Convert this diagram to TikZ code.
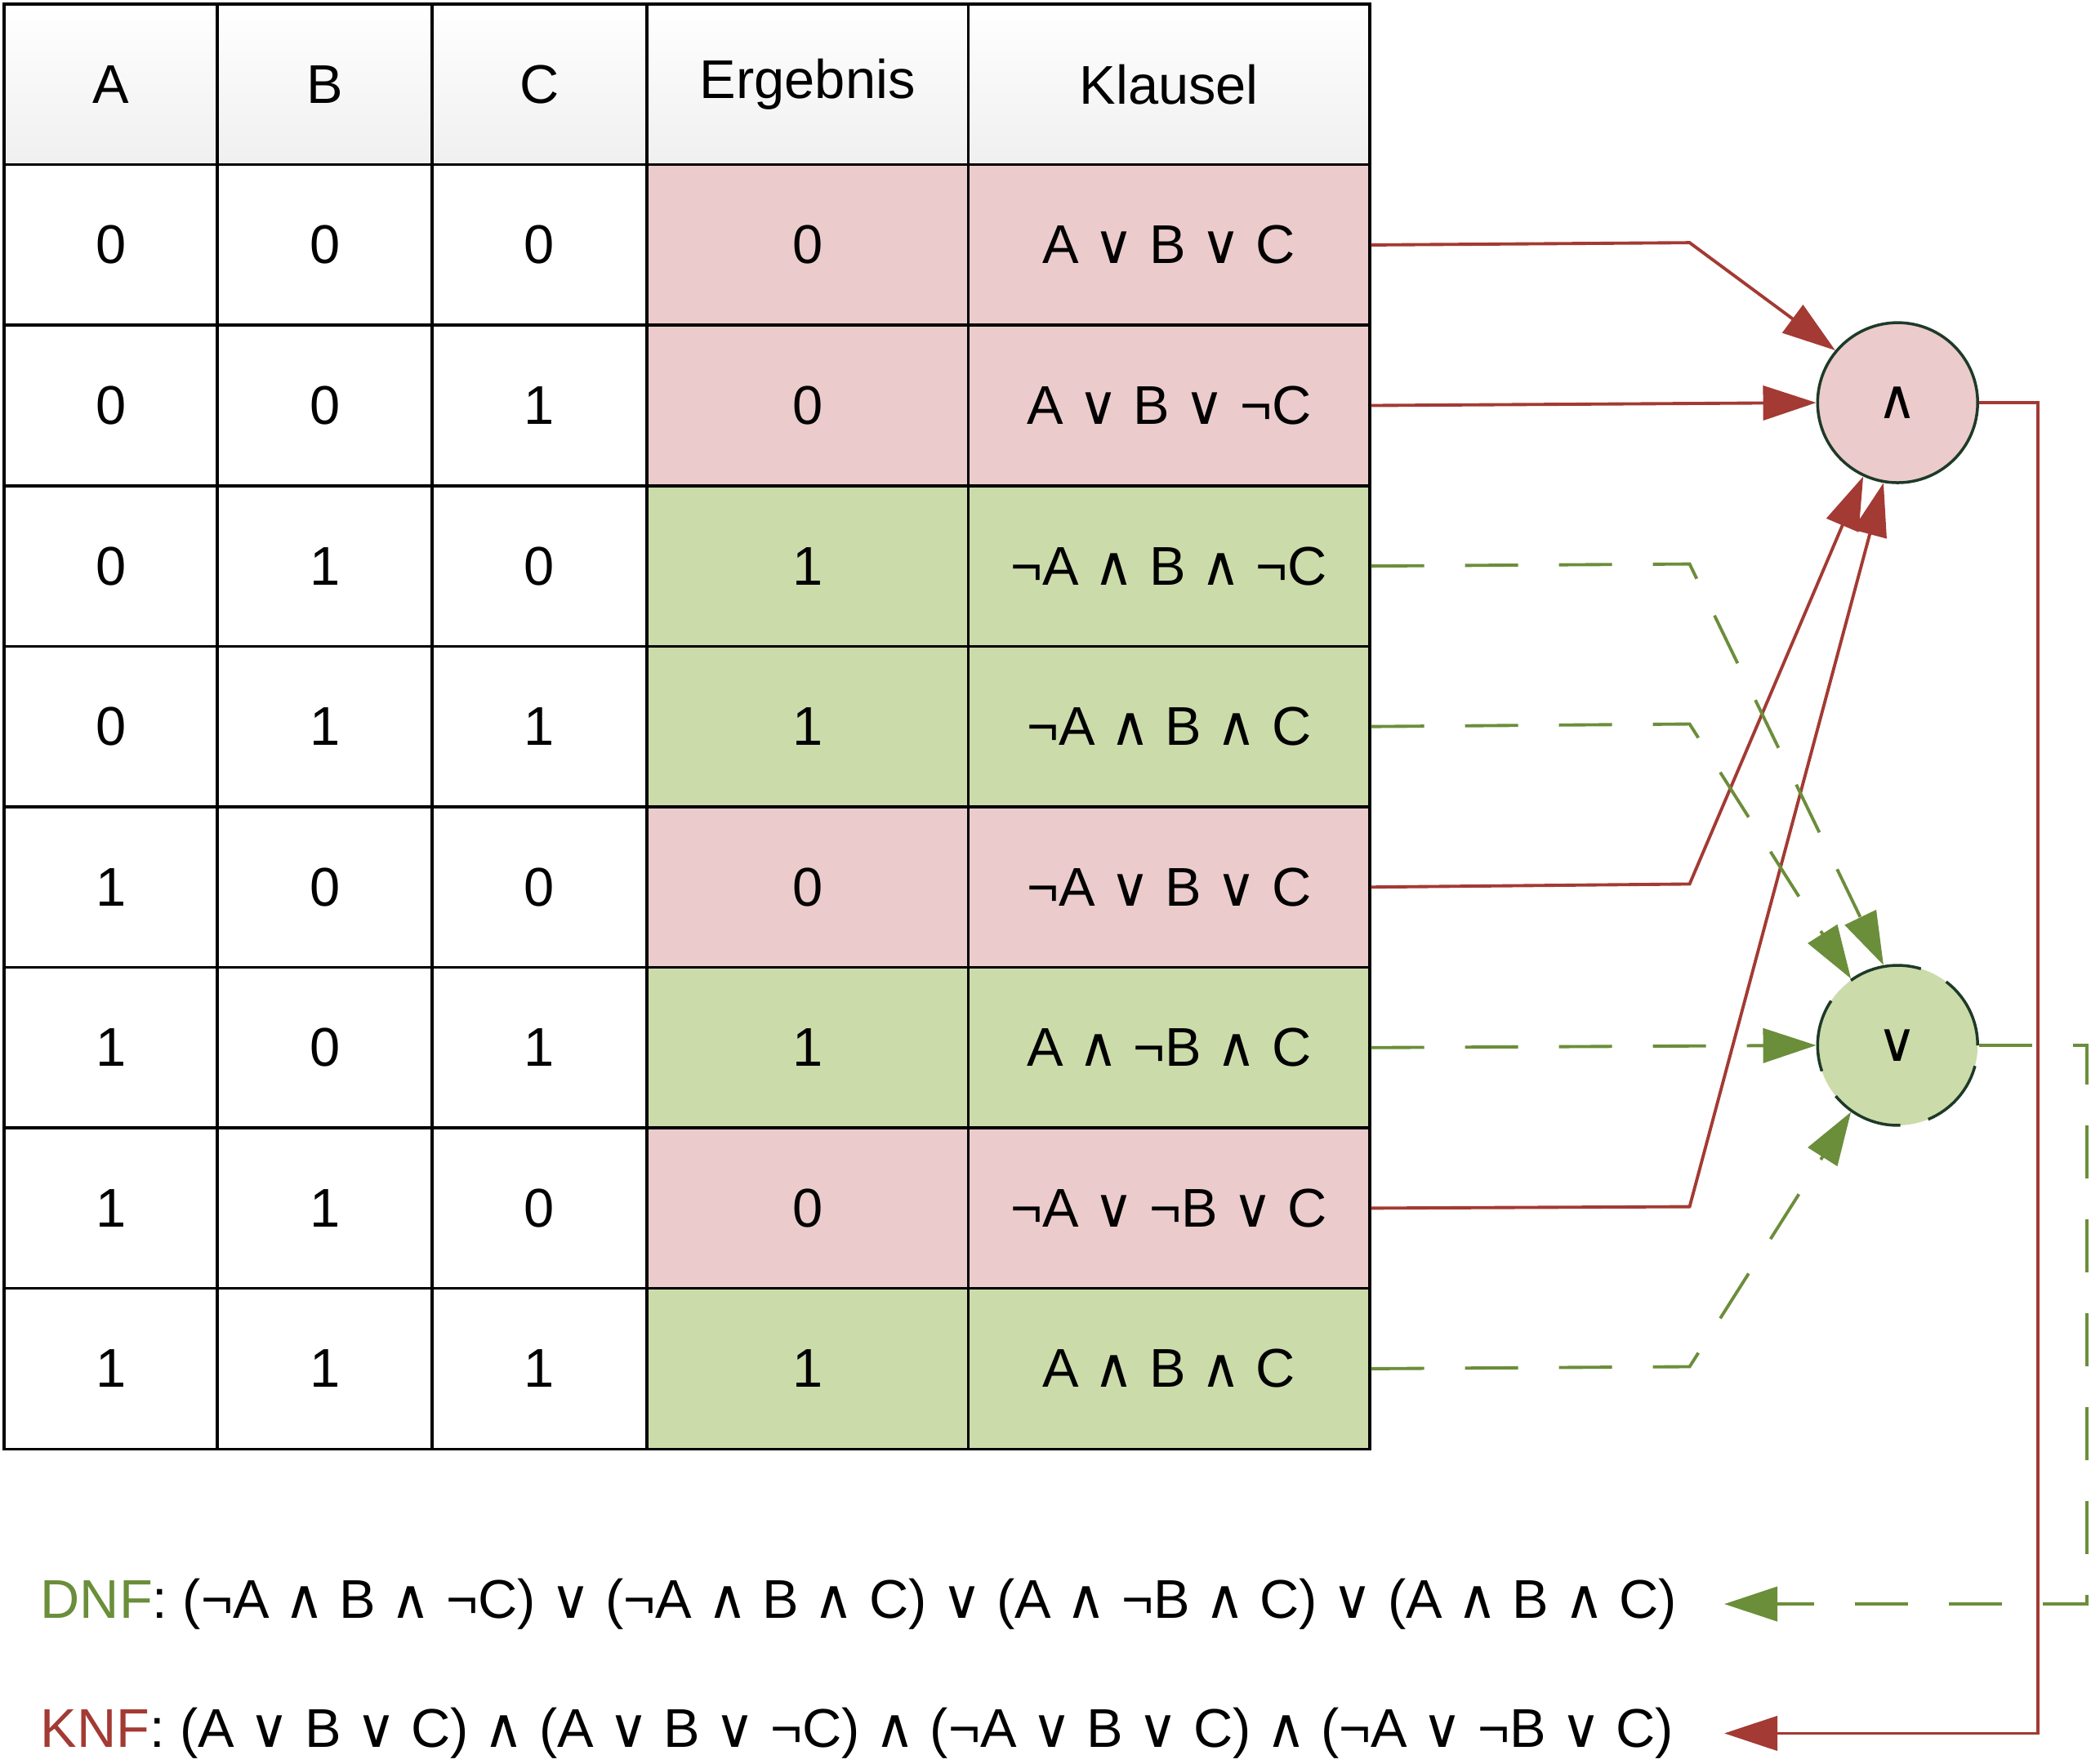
\documentclass[tikz,border=0pt]{standalone}
\usepackage{fontspec}
\setmainfont{Liberation Sans}
\newfontfamily\symf{DejaVu Sans}
\usetikzlibrary{arrows.meta}
\newcommand{\lAnd}{{\symf\char"2227}}
\newcommand{\lOr}{{\symf\char"2228}}
\newcommand{\lNot}{¬}
\definecolor{rd}{HTML}{A33A33}
\definecolor{gn}{HTML}{6B8E3A}
\definecolor{rfill}{HTML}{EBCBCB}
\definecolor{gfill}{HTML}{CCDBAA}
\definecolor{dk}{HTML}{1E3A28}
\begin{document}
\begin{tikzpicture}[x=0.016327cm,y=-0.016327cm,
  cell/.style={draw=black,line width=1pt,inner sep=0,anchor=north west,minimum height=1.967cm,font=\fontsize{19}{22}\selectfont},
  red/.style={cell,fill=rfill},grn/.style={cell,fill=gfill},
  hd/.style={cell,top color=white,bottom color=black!6},
  tip/.style={-{Triangle[length=0.65cm,width=0.42cm]}},
  rl/.style={rd,line width=1.1pt,tip},
  gl/.style={gn,line width=1.1pt,tip,dash pattern=on 0.65cm off 0.5cm},
  txt/.style={anchor=west,font=\fontsize{19}{22}\selectfont,inner sep=0}]
\useasboundingbox (0,0) rectangle (1568,1323);
\def\cw#1{\pgfmathparse{#1*0.016327}\pgfmathresult cm}
% header
\node[hd,minimum width=160*0.016327cm] (hA) at (2,2) {A};
\node[hd,minimum width=161*0.016327cm] (hB) at (162,2) {B};
\node[hd,minimum width=161*0.016327cm] (hC) at (323,2) {C};
\node[hd,minimum width=241*0.016327cm] (hE) at (484,2) {Ergebnis};
\node[hd,minimum width=301*0.016327cm] (hK) at (725,2) {Klausel};
\foreach \i/\a/\b/\c/\e/\st/\k in {
 1/0/0/0/0/red/{A \lOr{} B \lOr{} C},
 2/0/0/1/0/red/{A \lOr{} B \lOr{} \lNot C},
 3/0/1/0/1/grn/{\lNot A \lAnd{} B \lAnd{} \lNot C},
 4/0/1/1/1/grn/{\lNot A \lAnd{} B \lAnd{} C},
 5/1/0/0/0/red/{\lNot A \lOr{} B \lOr{} C},
 6/1/0/1/1/grn/{A \lAnd{} \lNot B \lAnd{} C},
 7/1/1/0/0/red/{\lNot A \lOr{} \lNot B \lOr{} C},
 8/1/1/1/1/grn/{A \lAnd{} B \lAnd{} C}}{
  \pgfmathsetmacro{\yy}{2+120.4*\i}
  \node[cell,minimum width=160*0.016327cm] (a\i) at (2,\yy) {\a};
  \node[cell,minimum width=161*0.016327cm] (b\i) at (162,\yy) {\b};
  \node[cell,minimum width=161*0.016327cm] (c\i) at (323,\yy) {\c};
  \node[\st,minimum width=241*0.016327cm] (e\i) at (484,\yy) {\e};
  \node[\st,minimum width=301*0.016327cm] (k\i) at (725,\yy) {\k};
}
\node[circle,draw=dk,line width=1pt,fill=rfill,minimum size=120*0.016327cm,inner sep=0,font=\fontsize{19}{22}\selectfont] (and) at (1423,302) {\lAnd};
\node[circle,draw=dk,line width=1pt,fill=gfill,dash pattern=on 0.9cm off 0.35cm,minimum size=120*0.016327cm,inner sep=0,font=\fontsize{19}{22}\selectfont] (or) at (1423,784) {\lOr};
\coordinate (b1) at (1267,182); \coordinate (b5) at (1267,663); \coordinate (b7) at (1267,905);
\coordinate (g3) at (1267,423); \coordinate (g4) at (1267,543); \coordinate (g8) at (1267,1025);
\draw[rl] (k1.east) -- (b1) -- (and.140);
\draw[rl] (k2.east) -- (and.west);
\draw[rl] (k5.east) -- (b5) -- (and.245);
\draw[rl] (k7.east) -- (b7) -- (and.260);
\draw[gl] (k3.east) -- (g3) -- (or.100);
\draw[gl] (k4.east) -- (g4) -- (or.125);
\draw[gl] (k6.east) -- (or.west);
\draw[gl] (k8.east) -- (g8) -- (or.235);
\node[txt] (dnf) at (30,1203) {\textcolor{gn}{DNF}: (\lNot A \lAnd{} B \lAnd{} \lNot C) \lOr{} (\lNot A \lAnd{} B \lAnd{} C) \lOr{} (A \lAnd{} \lNot B \lAnd{} C) \lOr{} (A \lAnd{} B \lAnd{} C)};
\node[txt] (knf) at (30,1300) {\textcolor{rd}{KNF}: (A \lOr{} B \lOr{} C) \lAnd{} (A \lOr{} B \lOr{} \lNot C) \lAnd{} (\lNot A \lOr{} B \lOr{} C) \lAnd{} (\lNot A \lOr{} \lNot B \lOr{} C)};
\coordinate (dend) at (1293,1203); \coordinate (kend) at (1293,1300);
\draw[rl] (and.east) -- (1528,302) -- (1528,1300) -- (kend);
\draw[gl] (or.east) -- (1565,784) -- (1565,1203) -- (dend);
\end{tikzpicture}
\end{document}
